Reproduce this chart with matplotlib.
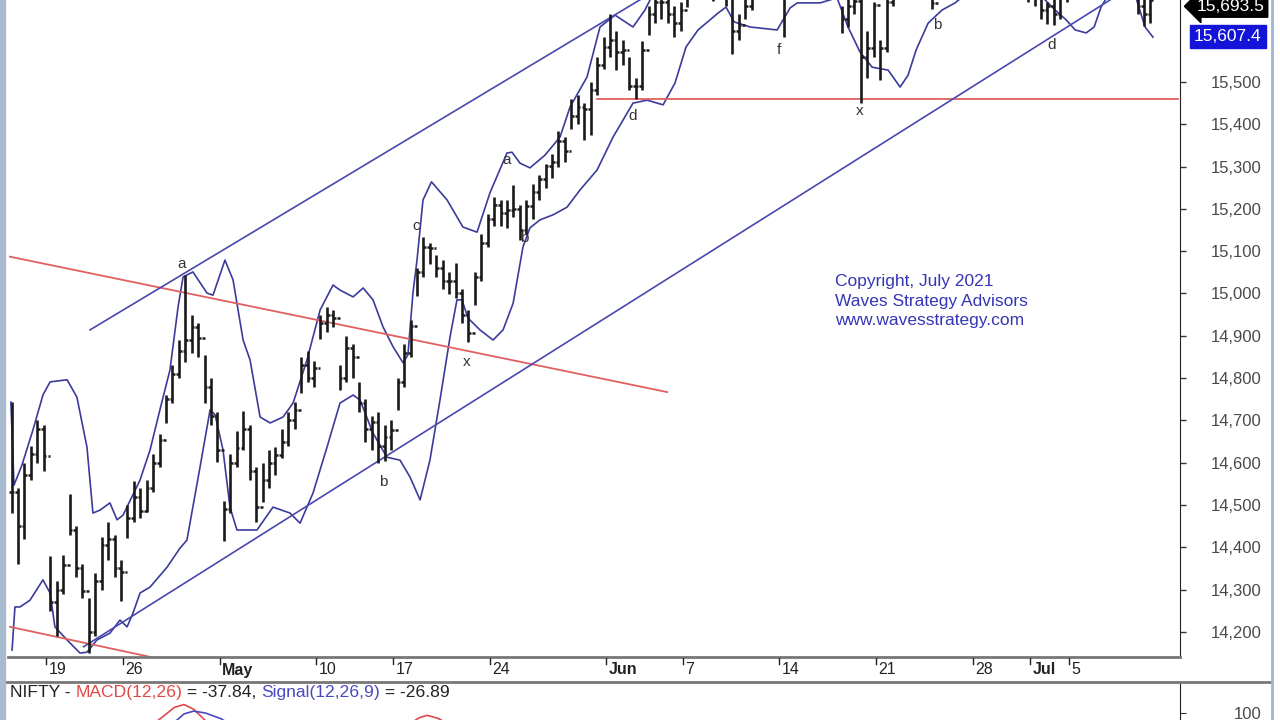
import numpy as np
import matplotlib
matplotlib.use("Agg")
import matplotlib.pyplot as plt
from matplotlib.lines import Line2D
from matplotlib.patches import Rectangle

plt.rcParams['font.family'] = ['Liberation Sans', 'DejaVu Sans']

# NIFTY hourly-ish bars, 3 per session, Apr 15 .. Jul 9 2021 (x = session index)
highs = [
    14744, 14540, 14600,  14640, 14700, 14690,  14380, 14320, 14382,
    14526, 14450, 14360,  14280, 14340, 14424,  14461, 14430, 14370,
    14500, 14557, 14540,  14560, 14620, 14667,  14760, 14830, 14890,
    15044, 14950, 14930,  14855, 14800, 14720,  14510, 14620, 14674,
    14723, 14690, 14590,  14600, 14630, 14637,  14680, 14720, 14743,
    14850, 14863, 14840,  14950, 14967, 14960,  14830, 14900, 14880,
    14790, 14750, 14710,  14720, 14690, 14700,  14800, 14880, 14938,
    15060, 15134, 15120,  15090, 15080, 15050,  15071, 15010, 14960,
    15050, 15140, 15189,  15228, 15220, 15220,  15256, 15210, 15220,
    15260, 15280, 15305,  15330, 15384, 15370,  15460, 15469, 15450,
    15500, 15560, 15606,  15660, 15620, 15600,  15560, 15510, 15597,
    15680, 15705, 15700,  15733, 15680, 15690,  15740, 15773, 15770,
    15779, 15760, 15750,  15772, 15700, 15660,  15700, 15730, 15752,
    15790, 15800, 15800,  15800, 15800, 15823,  15901, 15890, 15885,
    15880, 15830, 15800,  15680, 15700, 15721,  15765, 15620, 15690,
    15600, 15700, 15765,  15850, 15896, 15820,  15862, 15800, 15720,
    15760, 15800, 15822,  15850, 15870, 15868,  15916, 15870, 15840,
    15835, 15790, 15770,  15800, 15770, 15740,  15755, 15710, 15690,
    15700, 15720, 15739,  15845, 15840, 15840,  15915, 15880, 15830,
    15840, 15870, 15893,  15856, 15770, 15700,  15729,
]
lows = [
    14480, 14360, 14420,  14560, 14600, 14580,  14250, 14191, 14290,
    14430, 14330, 14280,  14151, 14190, 14300,  14370, 14330, 14273,
    14421, 14460, 14470,  14484, 14530, 14590,  14694, 14740, 14800,
    14837, 14860, 14850,  14740, 14690, 14601,  14416, 14480, 14590,
    14630, 14560, 14461,  14506, 14540, 14570,  14611, 14640, 14680,
    14765, 14790, 14780,  14892, 14910, 14920,  14771, 14790, 14800,
    14720, 14650, 14630,  14600, 14605, 14630,  14725, 14780, 14850,
    14993, 15040, 15070,  15040, 15010, 14999,  14990, 14930, 14885,
    14973, 15030, 15110,  15160, 15160, 15155,  15180, 15126, 15140,
    15176, 15220, 15250,  15272, 15300, 15310,  15390, 15400, 15364,
    15374, 15470, 15530,  15560, 15528, 15540,  15480, 15460, 15480,
    15611, 15640, 15650,  15640, 15606, 15620,  15678, 15710, 15720,
    15720, 15692, 15700,  15680, 15566, 15600,  15649, 15670, 15700,
    15742, 15750, 15760,  15606, 15710, 15780,  15842, 15850, 15850,
    15800, 15770, 15749,  15616, 15630, 15660,  15450, 15510, 15560,
    15505, 15570, 15680,  15780, 15800, 15757,  15780, 15700, 15673,
    15702, 15730, 15770,  15780, 15810, 15830,  15840, 15800, 15791,
    15760, 15724, 15730,  15740, 15700, 15690,  15680, 15650, 15636,
    15635, 15650, 15690,  15762, 15790, 15800,  15820, 15790, 15762,
    15779, 15810, 15850,  15740, 15660, 15632,  15640,
]
closes = [
    14530, 14450, 14570,  14620, 14680, 14617,  14270, 14300, 14359,
    14440, 14350, 14296,  14200, 14320, 14406,  14420, 14350, 14341,
    14470, 14520, 14485,  14540, 14600, 14653,  14750, 14810, 14864,
    14890, 14920, 14894,  14780, 14710, 14631,  14490, 14600, 14634,
    14680, 14580, 14496,  14560, 14600, 14618,  14650, 14700, 14724,
    14830, 14800, 14823,  14930, 14950, 14942,  14800, 14870, 14851,
    14740, 14680, 14696,  14640, 14660, 14677,  14790, 14860, 14923,
    15050, 15110, 15108,  15060, 15030, 15030,  15000, 14950, 14906,
    15040, 15120, 15175,  15210, 15190, 15197,  15200, 15150, 15208,
    15240, 15270, 15301,  15310, 15360, 15337,  15420, 15440, 15435,
    15480, 15540, 15583,  15600, 15570, 15575,  15490, 15490, 15576,
    15660, 15690, 15690,  15660, 15640, 15670,  15730, 15750, 15751,
    15740, 15710, 15740,  15700, 15620, 15635,  15680, 15710, 15737,
    15770, 15790, 15795,  15720, 15790, 15811,  15870, 15880, 15869,
    15820, 15780, 15767,  15650, 15680, 15691,  15560, 15580, 15683,
    15580, 15690, 15746,  15840, 15810, 15772,  15800, 15720, 15686,
    15740, 15780, 15790,  15830, 15850, 15860,  15860, 15820, 15814,
    15780, 15750, 15748,  15760, 15720, 15721,  15700, 15670, 15680,
    15660, 15700, 15722,  15800, 15820, 15834,  15880, 15800, 15818,
    15820, 15860, 15879,  15760, 15680, 15660,  15693.5,
]

# envelope bands (session index, price)
upper_x = [0.13, 0.29, 0.70, 1.27, 1.79, 2.16, 3.04, 3.55, 4.07, 4.38, 4.75, 5.26,
           5.63, 5.94, 6.82, 7.34, 7.85, 8.37, 8.79, 9.05, 9.56, 10.29, 10.60, 11.22,
           11.64, 12.16, 12.52, 13.04, 13.56, 14.23, 14.75, 15.47, 16.15, 16.82, 17.18,
           17.86, 18.38, 18.89, 19.41, 19.93, 20.45, 20.70, 20.96, 21.17, 21.48, 21.92,
           22.73, 23.55, 24.28, 24.95, 25.83, 26.09, 26.51, 27.02, 27.80, 28.58, 29.10,
           29.98, 30.65, 31.43, 32.36, 32.98, 33.76, 36.0, 40.0, 45.0, 50.0, 55.0, 59.2]
upper_y = [14743, 14547, 14594, 14677, 14760, 14791, 14796, 14755, 14637, 14481, 14488, 14505,
           14465, 14476, 14559, 14630, 14725, 14819, 14968, 15039, 15051, 15001, 14996, 15079,
           15032, 14890, 14843, 14708, 14694, 14708, 14741, 14843, 14961, 15020, 15008,
           14992, 15013, 14985, 14921, 14874, 14836, 14855, 15001, 15079, 15221, 15264,
           15221, 15157, 15145, 15238, 15332, 15334, 15308, 15297, 15327, 15370, 15441,
           15512, 15630, 15658, 15630, 15670, 15741, 15820, 15880, 15900, 15930, 15950, 15960]
lower_x = [0.19, 0.34, 0.60, 1.12, 1.79, 2.16, 2.41, 3.04, 3.71, 4.07, 4.59, 5.26, 5.78,
           6.15, 6.46, 6.82, 7.34, 8.22, 8.89, 9.25, 9.93, 10.45, 10.71, 11.12, 11.48, 11.84,
           12.88, 13.71, 14.59, 15.11, 15.78, 16.51, 17.18, 17.86, 18.22, 18.89, 19.61, 20.29,
           20.81, 21.33, 21.84, 22.36, 22.88, 23.24, 23.50, 23.81, 24.43, 25.11, 25.63, 26.15,
           26.66, 27.02, 27.54, 28.22, 28.94, 29.62, 30.50, 31.33, 32.36, 33.09, 33.92, 34.54,
           35.11, 35.73, 36.77, 37.18, 37.60, 38.43, 39.83, 40.50, 40.87, 42.06, 42.93, 43.50,
           44.12, 44.75, 45.58, 46.20, 46.61, 47.03, 47.65, 48.37, 49.05, 49.83, 51.38, 53.45,
           54.23, 54.80, 55.27, 55.84, 56.25, 56.61, 57.08, 57.86, 58.37, 58.89, 59.30]
lower_y = [14157, 14259, 14259, 14275, 14323, 14292, 14212, 14181, 14150, 14152, 14181, 14197,
           14228, 14212, 14245, 14292, 14306, 14353, 14398, 14417, 14590, 14725, 14713, 14630,
           14495, 14441, 14441, 14495, 14481, 14457, 14528, 14637, 14741, 14760, 14748, 14670,
           14613, 14606, 14566, 14512, 14606, 14748, 14897, 14985, 14985, 14942, 14914, 14890,
           14914, 14977, 15110, 15155, 15174, 15186, 15204, 15245, 15292, 15370, 15450, 15457,
           15446, 15498, 15583, 15623, 15663, 15677, 15642, 15630, 15623, 15675, 15687, 15687,
           15699, 15630, 15571, 15535, 15528, 15488, 15516, 15576, 15639, 15670, 15687, 15717,
           15741, 15706, 15670, 15647, 15623, 15616, 15630, 15677, 15713, 15729, 15706, 15630,
           15606]

# drawn trend lines: (x0, x1), (y0, y1)
red_lines = [((0.08, 34.13), (15087, 14767)),
             ((0.08, 7.85), (14212, 14136)),
             ((30.50, 60.6), (15460, 15460))]
blue_lines = [((4.23, 36.0), (14914, 15784)),
              ((3.9, 60.0), (14165, 15778))]

wave_labels = ['a', 'b', 'c', 'x', 'a', 'b', 'd', 'f', 'x', 'b', 'd']
wave_x = [9.0, 19.41, 21.12, 23.76, 25.83, 26.72, 32.36, 39.93, 44.12, 48.12, 54.07]
wave_y = [15070, 14554, 15160, 14838, 15316, 15131, 15420, 15576, 15431, 15635, 15587]

tick_days = [2, 6, 11, 16, 20, 25, 31, 35, 40, 45, 50, 53, 55]
tick_labels = ['19', '26', 'May', '10', '17', '24', 'Jun', '7', '14', '21', '28', 'Jul', '5']
price_ticks = list(range(14200, 15600, 100))

macd_x = [0, 3, 5, 7, 8, 8.6, 9.1, 9.6, 10.2, 11, 13, 16, 19, 20.5, 21.3, 21.7, 22.3, 23,
          26, 30, 34, 40, 45, 50, 55, 59.2]
macd = [-60, -90, -40, 60, 92, 112, 118, 108, 84, 55, 10, 30, -10, 70, 90, 95, 88, 70,
        60, 70, 65, 40, -20, 10, 0, -37.84]
signal = [-40, -70, -60, 20, 50, 80, 98, 104, 100, 88, 40, 25, 10, 45, 68, 78, 84, 80,
          65, 68, 66, 50, 10, 5, 0, -26.89]

BAR = '#1a1a1a'
BAND = '#3b3b9c'
CHAN = '#4848b0'
RED = '#e06060'
W, H = 1280, 720

fig = plt.figure(figsize=(12.8, 7.2), dpi=100)
fig.patch.set_facecolor('white')

ax = fig.add_axes([8 / W, 63 / H, 1172 / W, 657 / H])
ax.set_xlim(-0.02, 60.7)
ax.set_ylim(14140.7, 15693.8)

x = (np.arange(len(highs)) + 0.5) / 3
c = np.array(closes, dtype=float)
o = np.r_[c[0], c[:-1]]
ax.plot(upper_x, upper_y, color=BAND, lw=1.2, zorder=2)
ax.plot(lower_x, lower_y, color=BAND, lw=1.2, zorder=2)
ax.vlines(x, lows, highs, color=BAR, lw=1.9, zorder=3)
ax.hlines(c, x, x + 0.14, color=BAR, lw=1.8, zorder=3)
ax.hlines(o, x - 0.14, x, color=BAR, lw=1.8, zorder=3)

for xs, ys in red_lines:
    ax.plot(xs, ys, color=RED, lw=1.3, zorder=2)
for xs, ys in blue_lines:
    ax.plot(xs, ys, color=CHAN, lw=1.2, zorder=2)

for t, wx, wy in zip(wave_labels, wave_x, wave_y):
    ax.text(wx, wy, t, ha='center', va='center', fontsize=11, color='#333333', zorder=4)

for i, line in enumerate(['Copyright, July 2021', 'Waves Strategy Advisors', 'www.wavesstrategy.com']):
    ax.text(0.706, 0.571 - i * 0.0295, line, transform=ax.transAxes, fontsize=12.5,
            color='#3535b5', va='center', ha='left')

ax.set_xticks([])
ax.yaxis.tick_right()
ax.set_yticks(price_ticks)
ax.set_yticklabels([f'{v:,}' for v in price_ticks])
ax.tick_params(axis='y', direction='out', length=4, width=1, color='#333333',
               labelsize=12, labelcolor='#4a4a4a', pad=55)
for lbl in ax.get_yticklabels():
    lbl.set_horizontalalignment('right')
for s in ['top', 'left']:
    ax.spines[s].set_visible(False)
ax.spines['right'].set_color('#222222')
ax.spines['bottom'].set_color('#777777')
ax.spines['bottom'].set_linewidth(2)

ytr = ax.get_yaxis_transform()
ax.text(1.014, 15679, '15,693.5', transform=ytr, ha='left', va='center', fontsize=12.5,
        color='white', clip_on=False, zorder=6,
        bbox=dict(boxstyle='larrow,pad=0.2', fc='black', ec='black'))
ax.text(1.012, 15607.4, '15,607.4', transform=ytr, ha='left', va='center', fontsize=12.5,
        color='white', clip_on=False, zorder=6,
        bbox=dict(boxstyle='square,pad=0.22', fc='#1414d8', ec='#1414d8'))

# date strip
dax = fig.add_axes([8 / W, 38 / H, 1172 / W, 24 / H])
dax.set_xlim(ax.get_xlim())
dax.set_ylim(0, 1)
dax.axis('off')
for d, lab in zip(tick_days, tick_labels):
    dax.plot([d - 0.05, d - 0.05], [0.74, 0.98], color='#222222', lw=1)
    dax.text(d + 0.08, 0.5, lab, ha='left', va='center', fontsize=11.5, color='#222222',
             fontweight='bold' if lab in ('May', 'Jun', 'Jul') else 'normal')

# MACD panel (only its top edge is visible)
max_ = fig.add_axes([8 / W, 0, 1172 / W, 37 / H])
max_.set_xlim(ax.get_xlim())
max_.set_ylim(85, 164)
max_.plot(macd_x, macd, color='#e04848', lw=1.2)
max_.plot(macd_x, signal, color='#4a4ac0', lw=1.2)
max_.set_xticks([])
max_.yaxis.tick_right()
max_.set_yticks([100])
max_.set_yticklabels(['100'])
max_.tick_params(axis='y', direction='out', length=4, color='#333333', labelsize=12,
                 labelcolor='#4a4a4a', pad=55)
for lbl in max_.get_yticklabels():
    lbl.set_horizontalalignment('right')
for s in ['top', 'left', 'bottom']:
    max_.spines[s].set_visible(False)
max_.spines['right'].set_color('#222222')

segs = [('NIFTY - ', '#222222'), ('MACD(12,26)', '#e04848'), (' = -37.84, ', '#222222'),
        ('Signal(12,26,9)', '#4a4ac0'), (' = -26.89', '#222222')]
prev = max_.text(2 / 1172, 0.73, segs[0][0], transform=max_.transAxes, fontsize=12.6,
                 color=segs[0][1], ha='left', va='center')
for s, col in segs[1:]:
    prev = max_.annotate(s, xy=(1, 0), xycoords=prev, ha='left', va='bottom',
                         fontsize=12.6, color=col)

# frame lines
fig.add_artist(Line2D([0, 1270 / W], [1 - 682 / H] * 2, transform=fig.transFigure,
                      color='#777777', lw=2))
fig.add_artist(Rectangle((0, 0), 5 / W, 1, transform=fig.transFigure,
                         color='#a9bccf', zorder=10))
fig.add_artist(Line2D([1272 / W] * 2, [0, 1], transform=fig.transFigure,
                      color='#9fb6d6', lw=2))

fig.savefig('out.png', dpi=100)
